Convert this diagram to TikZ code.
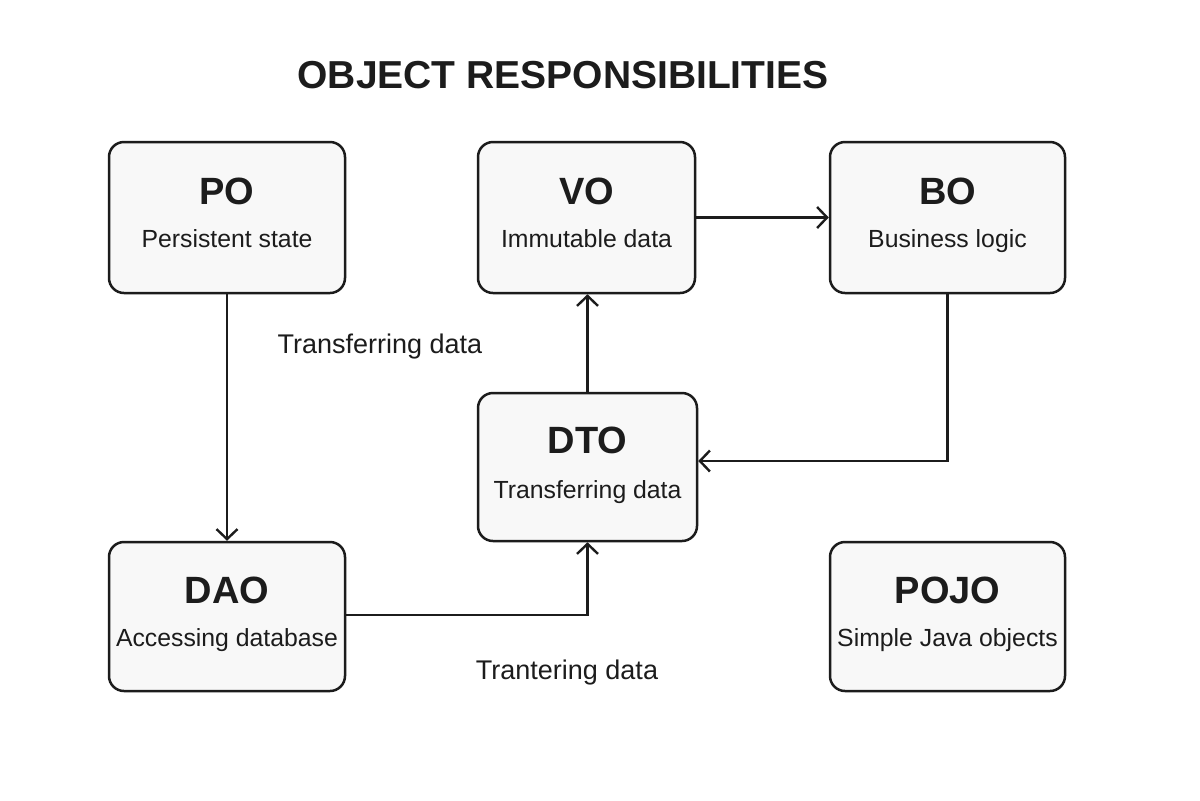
\documentclass[tikz,border=0pt]{standalone}
\usepackage{fontspec}
\setmainfont{Liberation Sans}
\usetikzlibrary{arrows.meta}
\definecolor{ink}{HTML}{1C1C1C}
\definecolor{boxfill}{HTML}{F8F8F8}
\tikzset{
  objbox/.style={draw=ink, fill=boxfill, line width=1.25pt, rounded corners=7.5pt, inner sep=0pt},
  boxtitle/.style={anchor=base, font=\fontsize{19pt}{22pt}\selectfont\bfseries, text=ink, inner sep=0pt},
  boxsub/.style={anchor=base, font=\fontsize{12.4pt}{15pt}\selectfont, text=ink, inner sep=0pt},
  flowlabel/.style={font=\fontsize{13.5pt}{16pt}\selectfont, text=ink, inner sep=0pt},
  conn/.style={draw=ink, line width=1.2pt, -{Straight Barb[length=5pt,width=10.5pt,line width=1.2pt]}}
}
\begin{document}
\begin{tikzpicture}[x=0.5pt,y=-0.5pt]
\useasboundingbox[fill=white] (0,0) rectangle (1200,800);
\node[font=\fontsize{19.5pt}{23pt}\selectfont\bfseries, text=ink] (title) at (563,75) {OBJECT RESPONSIBILITIES};
% boxes
\node[objbox, minimum width=118pt, minimum height=75.5pt] (po) at (227,217.5) {};
\node[objbox, minimum width=108.5pt, minimum height=75.5pt] (vo) at (586.5,217.5) {};
\node[objbox, minimum width=117.5pt, minimum height=75.5pt] (bo) at (947.5,217.5) {};
\node[objbox, minimum width=109.5pt, minimum height=74pt] (dto) at (587.5,467) {};
\node[objbox, minimum width=118pt, minimum height=74.5pt] (dao) at (227,616.5) {};
\node[objbox, minimum width=117.5pt, minimum height=74.5pt] (pojo) at (947.5,616.5) {};
% texts
\node[boxtitle] (potitle) at (227,204) {PO};
\node[boxsub] (posub) at (227,247) {Persistent state};
\node[boxtitle] (votitle) at (586.5,204) {VO};
\node[boxsub] (vosub) at (586.5,247) {Immutable data};
\node[boxtitle] (botitle) at (947.5,204) {BO};
\node[boxsub] (bosub) at (947.5,247) {Business logic};
\node[boxtitle] (dtotitle) at (587.5,453.5) {DTO};
\node[boxsub] (dtosub) at (587.5,498) {Transferring data};
\node[boxtitle] (daotitle) at (227,603) {DAO};
\node[boxsub] (daosub) at (227,646) {Accessing database};
\node[boxtitle] (pojotitle) at (947.5,603) {POJO};
\node[boxsub] (pojosub) at (947.5,646) {Simple Java objects};
% labels
\node[flowlabel] (lbl1) at (380,347) {Transferring data};
\node[flowlabel] (lbl2) at (567,673) {Trantering data};
% connectors
\draw[conn] (po.south) -- (dao.north);
\draw[conn] (dto.north) -- (dto.north |- vo.south);
\draw[conn] (vo.east) -- (bo.west);
\draw[conn] (bo.south) |- ([yshift=3pt]dto.east);
\draw[conn] ([yshift=0.75pt]dao.east) -| (dto.south);
\end{tikzpicture}
\end{document}
